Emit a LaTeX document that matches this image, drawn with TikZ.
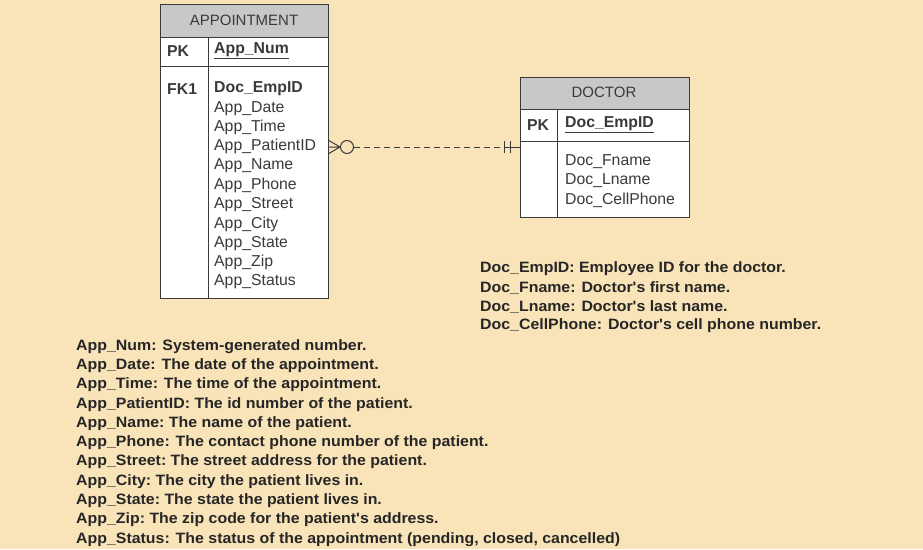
\documentclass[tikz,border=0pt]{standalone}
\usepackage{fontspec}
\setmainfont{Liberation Sans}
\newfontfamily\notefont{Liberation Sans}[FakeStretch=1.06]
\usetikzlibrary{positioning, calc}
\definecolor{bg}{HTML}{F8E4B8}
\definecolor{hdr}{HTML}{C8C8C8}
\definecolor{ink}{HTML}{3A3A3A}
\begin{document}
\begin{tikzpicture}[x=1pt, y=-1pt,
    tbl/.style={draw=ink, line width=0.9pt},
    head/.style={font=\fontsize{15}{17}\selectfont, text=ink},
    fld/.style={anchor=west, inner sep=0pt, font=\fontsize{15.8}{17}\selectfont, text=ink},
    key/.style={fld, font=\fontsize{15.8}{17}\selectfont\bfseries},
    note/.style={anchor=west, inner sep=0pt, font=\notefont\fontsize{15}{17}\selectfont\bfseries, text=black!85}
]
    % background
    \fill[bg] (0,0) rectangle (923,549);
    \useasboundingbox (0,0) rectangle (923,549);

    % APPOINTMENT table
    \fill[hdr] (160,4) rectangle (328,37);
    \fill[white] (160,37) rectangle (328,298);
    \draw[tbl] (160,4) rectangle (328,298);
    \draw[tbl] (160,37) -- (328,37) (160,66) -- (328,66) (208,37) -- (208,298);
    \node[head] (apname) at (244,20) {APPOINTMENT};
    \node[key] (appk) at (167,51) {PK};
    \node[key] (apnum) at (214,51) {\underline{App\_Num}};
    \node[key] (apfk) at (167,89) {FK1};
    \node[key] (apfkey) at (214,89) {Doc\_EmpID};
    \foreach \f [count=\i] in {App\_Date, App\_Time, App\_PatientID, App\_Name,
        App\_Phone, App\_Street, App\_City, App\_State, App\_Zip, App\_Status}
        \node[fld] at (214, 89+\i*19.3) {\f};
    \coordinate (apbody) at (328,147);

    % DOCTOR table
    \fill[hdr] (520,77) rectangle (689,109);
    \fill[white] (520,109) rectangle (689,217);
    \draw[tbl] (520,77) rectangle (689,217);
    \draw[tbl] (520,109) -- (689,109) (520,141) -- (689,141) (557,109) -- (557,217);
    \node[head] (docname) at (604,92) {DOCTOR};
    \node[key] (docpk) at (527,125) {PK};
    \node[key] (docid) at (565,125) {\underline{Doc\_EmpID}};
    \node[fld] (fname) at (565,162) {Doc\_Fname};
    \node[fld] (lname) at (565,181) {Doc\_Lname};
    \node[fld] (cell) at (565,200) {Doc\_CellPhone};
    \coordinate (docbody) at (520,147);

    % relationship
    \draw[ink, line width=1pt] ($(apbody)+(0,-7)$) -- ($(apbody)+(12,0)$) -- ($(apbody)+(0,7)$)
        (apbody) -- ($(apbody)+(12,0)$);
    \draw[ink, line width=1pt] ($(apbody)+(19,0)$) circle (6.5);
    \draw[ink, line width=1pt, dash pattern=on 6pt off 4pt]
        ($(apbody)+(26,0)$) -- ($(docbody)+(-16,0)$);
    \draw[ink, line width=1pt] ($(docbody)+(-10,0)$) -- (docbody)
        ($(docbody)+(-16,-6)$) -- ($(docbody)+(-16,6)$)
        ($(docbody)+(-10,-6)$) -- ($(docbody)+(-10,6)$)
        ($(docbody)+(-16,0)$) -- ($(docbody)+(-10,0)$);

    % doctor notes
    \node[note] (n1) at (480,269) {Doc\_EmpID:\ Employee ID for the doctor.};
    \node[note] (n2) at (480,288) {Doc\_Fname: Doctor's first name.};
    \node[note] (n3) at (480,307) {Doc\_Lname: Doctor's last name.};
    \node[note] (n4) at (480,326) {Doc\_CellPhone: Doctor's cell phone number.};

    % appointment notes
    \foreach \t [count=\i] in {
        App\_Num: System-generated number.,
        App\_Date: The date of the appointment.,
        App\_Time: The time of the appointment.,
        App\_PatientID: The id number of the patient.,
        App\_Name:\ The name of the patient.,
        App\_Phone: The contact phone number of the patient.,
        App\_Street:\ The street address for the patient.,
        App\_City:\ The city the patient lives in.,
        App\_State:\ The state the patient lives in.,
        App\_Zip:\ The zip code for the patient's address.,
        {App\_Status: The status\ of the appointment (pending, closed, cancelled)}}
        \node[note] at (76, 327+\i*19.3) {\t};
\end{tikzpicture}
\end{document}
